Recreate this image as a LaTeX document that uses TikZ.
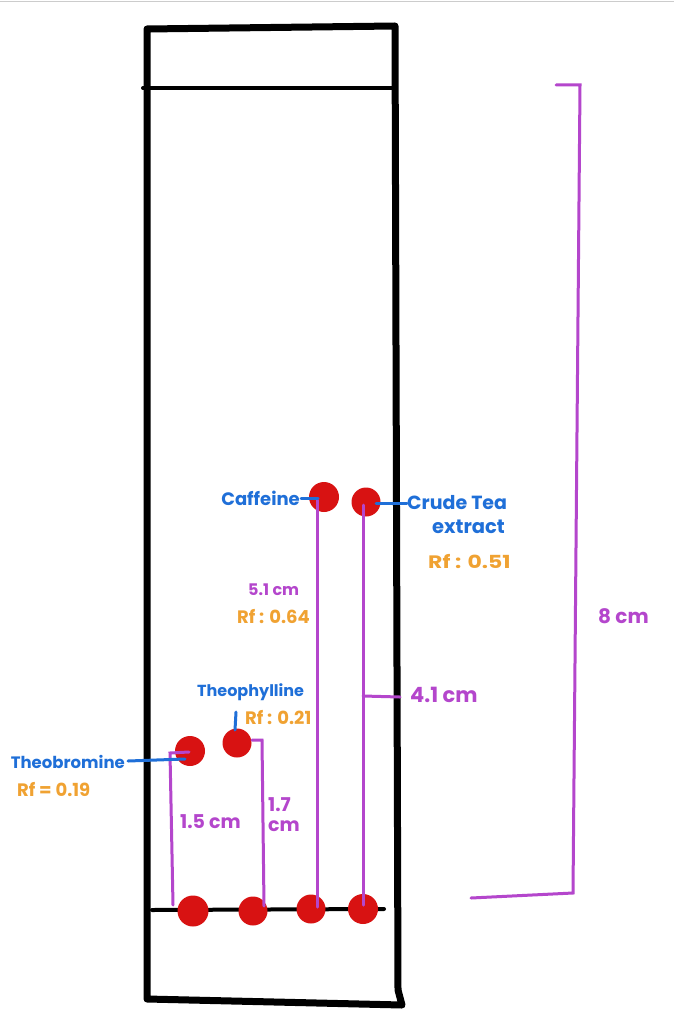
\documentclass[tikz,border=0pt]{standalone}
\usepackage{fontspec}
\setmainfont{Poppins}
\definecolor{spotred}{HTML}{D81212}
\definecolor{lblblue}{HTML}{1F6FD8}
\definecolor{lblorange}{HTML}{F0A232}
\definecolor{lblpurple}{HTML}{B446CC}
\newcommand\fsz[1]{\fontsize{#1}{#1}\selectfont\bfseries}
\begin{document}
\begin{tikzpicture}[x=1pt,y=-1pt,
  plate/.style={line width=7pt,line join=round,line cap=round},
  mark line/.style={line width=4pt,line cap=round},
  spot/.style={circle,fill=spotred,inner sep=0pt,minimum size=#1},
  purp/.style={draw=lblpurple,line width=3pt,line cap=round},
  blu/.style={draw=lblblue,line width=3pt,line cap=round},
  btxt/.style={text=lblblue,inner sep=0pt,anchor=west},
  otxt/.style={text=lblorange,inner sep=0pt,anchor=west},
  ptxt/.style={text=lblpurple,inner sep=0pt,anchor=west,align=left}]
\useasboundingbox (0,0) rectangle (674,1024);
\fill[white] (0,0) rectangle (674,1024);
\draw[gray!40,line width=1pt] (0,2) -- (674,2);
% plate
\coordinate (tl) at (147,29);
\coordinate (tr) at (395,26);
\coordinate (br) at (402,1005);
\coordinate (bl) at (147,999);
\draw[plate] (tl) -- (tr) -- (398,990) -- (br) -- (bl) -- cycle;
\coordinate (sfL) at (143,88);
\coordinate (sfR) at (392,88);
\draw[mark line] (sfL) -- (sfR);
\coordinate (blL) at (152,910);
\coordinate (blR) at (384,909);
\draw[mark line] (blL) -- (blR);
% baseline spots
\node[spot=31pt] (b1) at (193,911) {};
\node[spot=29pt] (b2) at (253,911) {};
\node[spot=29pt] (b3) at (311,909) {};
\node[spot=30pt] (b4) at (363,909) {};
% developed spots
\node[spot=30pt] (caf) at (324,497) {};
\node[spot=29pt] (crude) at (366,502) {};
\node[spot=30pt] (tbr) at (190,751) {};
\node[spot=29pt] (tph) at (237,743) {};
% purple distance lines
\coordinate (c1) at (317,500);
\coordinate (c2) at (317,907);
\draw[purp] (c1) -- (c2);
\coordinate (d1) at (363,505);
\coordinate (d2) at (363,905);
\draw[purp] (d1) -- (d2);
\coordinate (e0) at (189,752);
\coordinate (e1) at (170,753);
\coordinate (e2) at (173,905);
\draw[purp] (e0) -- (e1) -- (e2);
\coordinate (f0) at (252,740);
\coordinate (f1) at (262,740);
\coordinate (f2) at (264,906);
\draw[purp] (f0) -- (f1) -- (f2);
\coordinate (g0) at (363,696);
\coordinate (g1) at (400,697);
\draw[purp] (g0) -- (g1);
% 8 cm bracket
\coordinate (h0) at (556,85);
\coordinate (h1) at (580,85);
\coordinate (h2) at (573,893);
\coordinate (h3) at (471,898);
\draw[purp] (h0) -- (h1) -- (h2) -- (h3);
% labels
\node[btxt,anchor=east] (lcaf) at (300,498) {\fsz{18}Caffeine};
\draw[blu] (lcaf.east) ++(1,0) -- (318,498);
\node[btxt] (lcrude) at (407,503) {\fsz{19}Crude Tea};
\draw[blu] (376,503) -- (lcrude.west);
\node[btxt] (lext) at (432,527) {\fsz{19.5}extract};
\node[otxt] (rfcrude) at (428,562) {\fsz{18}\scalebox{1.22}[1]{Rf : 0.51}};
\node[ptxt] (l51) at (248,590) {\fsz{16}5.1 cm};
\node[otxt] (rfcaf) at (237,617) {\fsz{18}Rf : 0.64};
\node[btxt] (ltph) at (197,692) {\fsz{16}Theophylline};
\coordinate (t1) at (236,712);
\coordinate (t2) at (235,730);
\draw[blu] (t1) -- (t2);
\node[otxt] (rftph) at (245,718) {\fsz{18}Rf : 0.21};
\node[btxt,anchor=east] (ltbr) at (125,762) {\fsz{16.5}Theobromine};
\draw[blu] (ltbr.east) ++(3,-1) -- (185,759);
\node[otxt] (rftbr) at (17,790) {\fsz{18}Rf = 0.19};
\node[ptxt] (l15) at (180,822) {\fsz{19}1.5 cm};
\node[ptxt] (l17a) at (268,805) {\fsz{19}1.7};
\node[ptxt] (l17b) at (268,826) {\fsz{19}cm};
\node[ptxt] (l41) at (410,695) {\fsz{21}4.1 cm};
\node[ptxt] (l8) at (598,616) {\fsz{20}8 cm};
\end{tikzpicture}
\end{document}
